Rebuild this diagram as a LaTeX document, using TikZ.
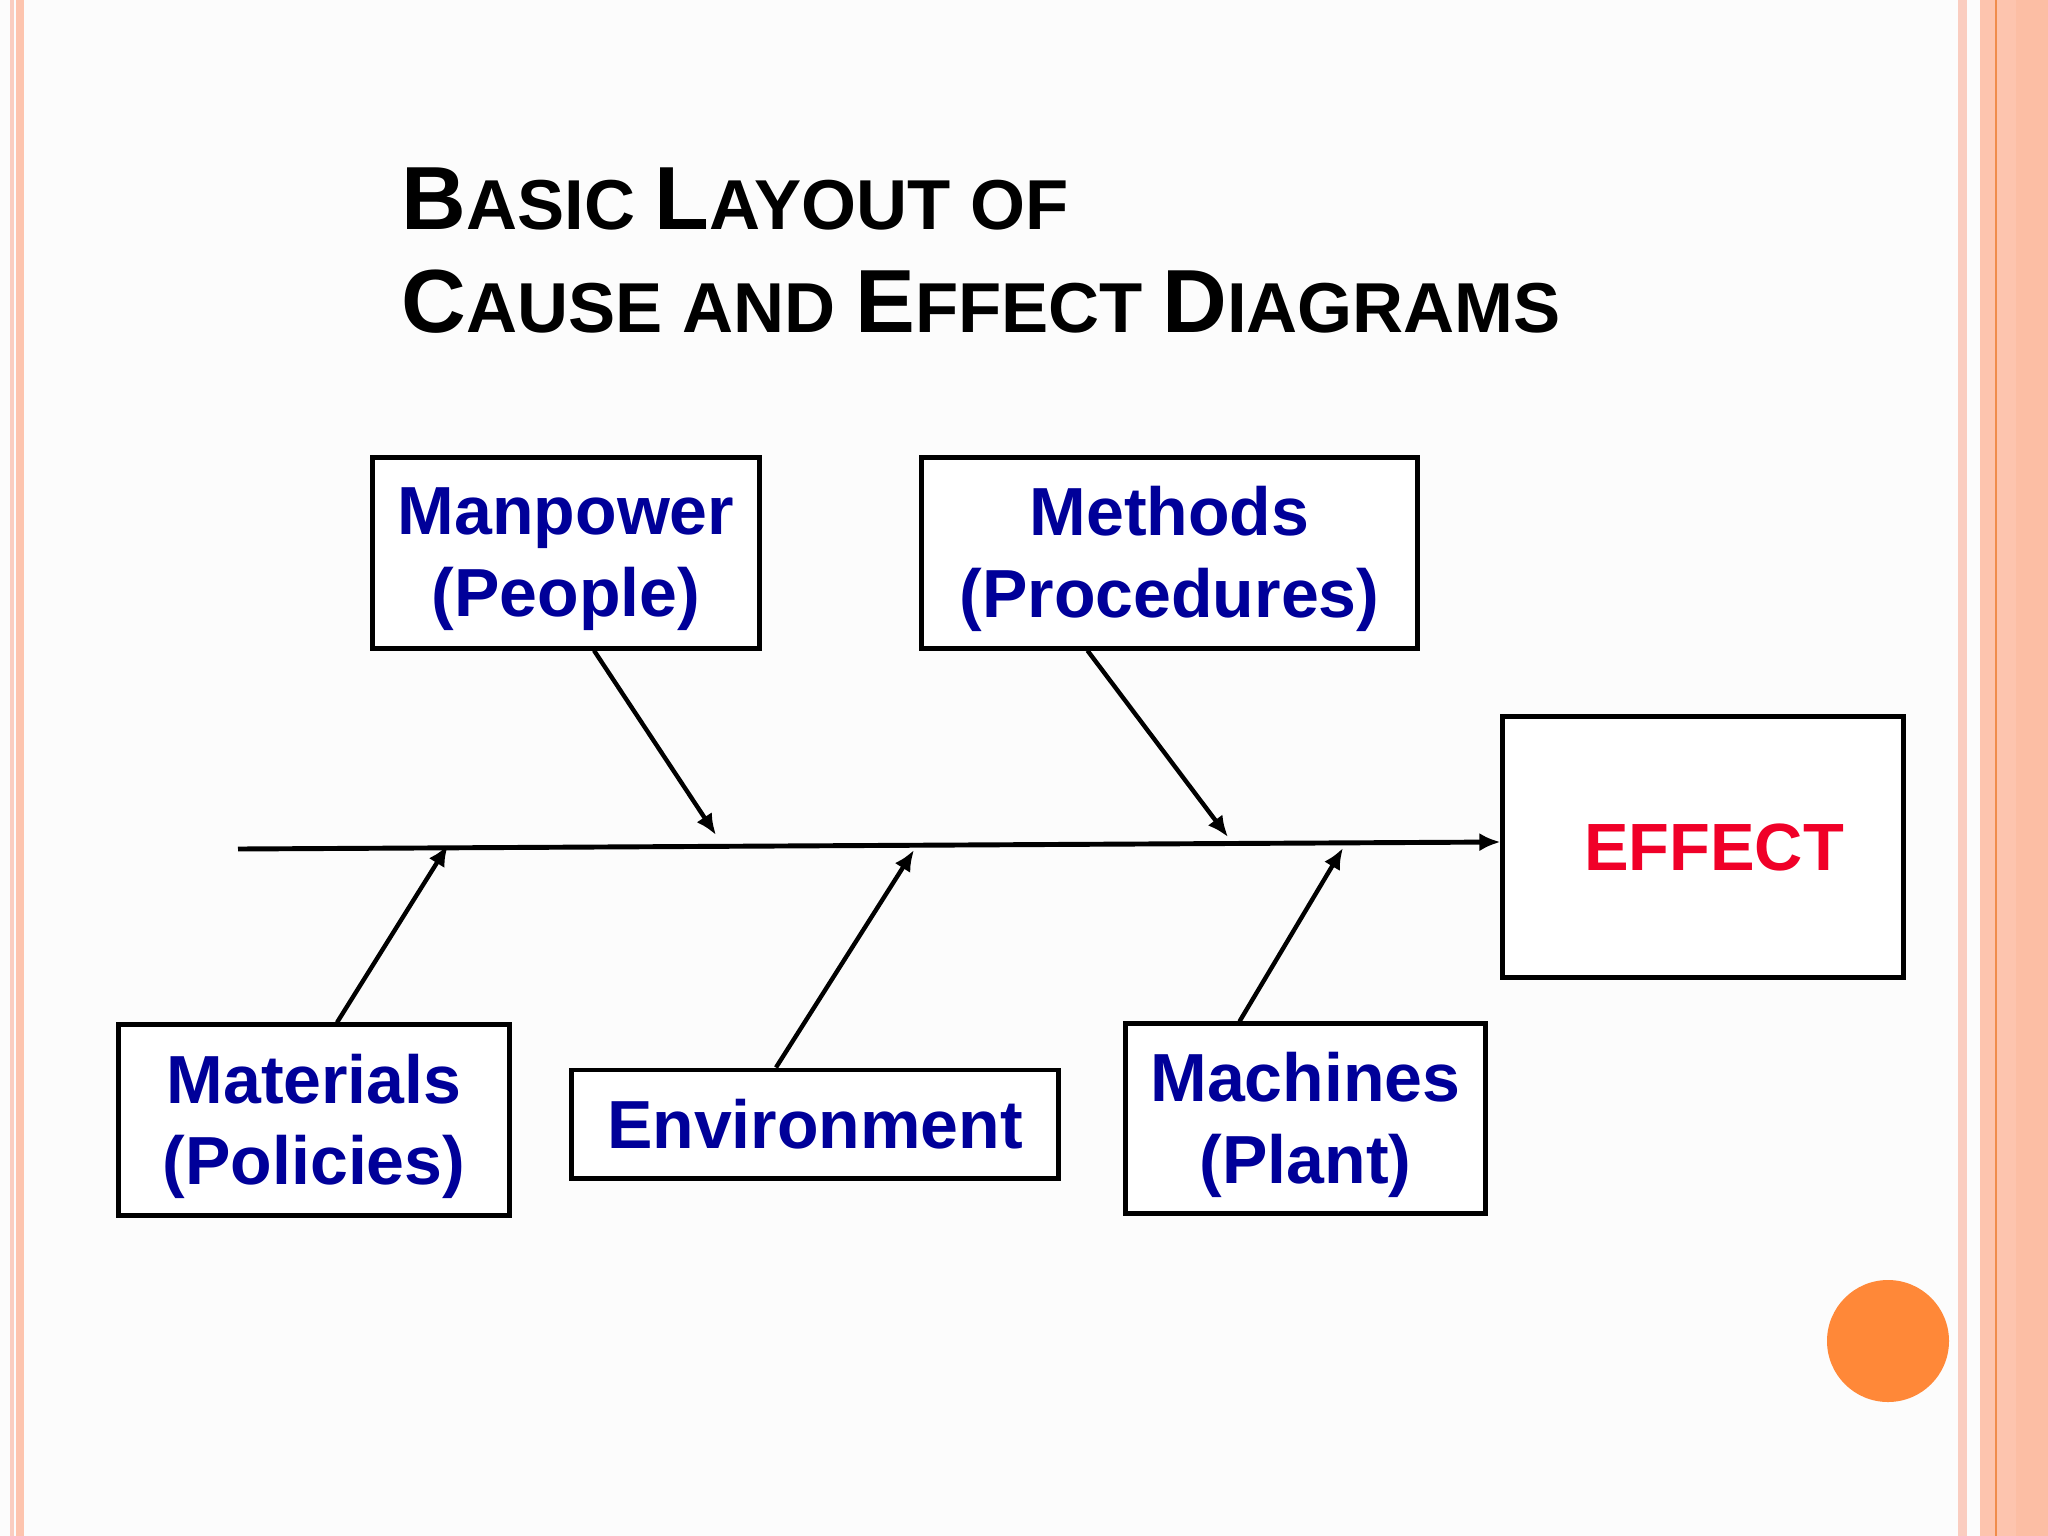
\documentclass[tikz,border=0pt]{standalone}
\usepackage{fontspec}
\setmainfont{Liberation Sans}
\usetikzlibrary{arrows.meta}

\definecolor{labelblue}{RGB}{0,0,153}
\definecolor{effectred}{RGB}{240,0,40}
\definecolor{stripelight}{RGB}{250,205,192}
\definecolor{stripe}{RGB}{253,196,174}
\definecolor{stripedark}{RGB}{252,190,164}
\definecolor{stripeline}{RGB}{240,140,76}
\definecolor{dotorange}{RGB}{255,136,56}

% big capital for the fake small caps of the title
\newcommand{\titlecap}[1]{{\fontsize{25.5}{30}\selectfont #1}}

\begin{document}
\begin{tikzpicture}[
  x=0.01cm, y=-0.01cm,
  cause/.style={rectangle, draw, line width=1.4pt, fill=white, align=center, inner sep=0pt,
    text=labelblue, font=\fontsize{19.35}{23.2}\selectfont\bfseries},
  twoline/.style={text depth=0.5pt},
  effectbox/.style={rectangle, draw, line width=1.4pt, fill=white, inner sep=0pt,
    text=effectred, font=\fontsize{19}{23}\selectfont\bfseries},
  spine/.style={-{Latex[length=6pt,width=5.2pt]}, line width=1.4pt},
  arrow/.style={-{Latex[length=6pt,width=5.2pt]}, line width=1.25pt},
  title/.style={anchor=base west, inner sep=0pt, font=\fontsize{20.1}{24}\selectfont\bfseries}
]
  \useasboundingbox (0,0) rectangle (2048,1536);
  \fill[white!99!black] (0,0) rectangle (2048,1536);

  % side stripes
  \fill[stripelight] (10,0) rectangle (14,1536);
  \fill[stripe] (16,0) rectangle (24,1536);
  \fill[stripelight] (1958,0) rectangle (1967,1536);
  \fill[stripe] (1980,0) rectangle (2048,1536);
  \fill[stripedark] (2016,0) rectangle (2048,1536);
  \draw[stripeline, line width=0.5pt] (1996,0) -- (1996,1536);
  \fill[dotorange] (1888,1341) circle (61);

  % title
  \node[title] (t1) at (401,229) {\titlecap{B}ASIC \titlecap{L}AYOUT OF};
  \node[title] (t2) at (401,332) {\titlecap{C}AUSE AND \titlecap{E}FFECT \titlecap{D}IAGRAMS};

  % boxes
  \node[cause, twoline, minimum width=3.86cm, minimum height=1.9cm] (manpower) at (566,553) {Manpower\\(People)};
  \node[cause, twoline, minimum width=4.95cm, minimum height=1.9cm] (methods) at (1169.5,553) {Methods\\(Procedures)};
  \node[cause, twoline, minimum width=3.9cm, minimum height=1.9cm] (materials) at (314,1120) {Materials\\(Policies)};
  \node[cause, minimum width=4.86cm, minimum height=1.08cm] (environment) at (815,1124) {Environment};
  \node[cause, twoline, minimum width=3.59cm, minimum height=1.89cm] (machines) at (1305.5,1118.5) {Machines\\(Plant)};
  \node[effectbox, minimum width=4cm, minimum height=2.6cm] (effect) at (1703,847) {\hspace*{0.22cm}EFFECT};
  \fill[white] (1543,719) rectangle (1883,722);

  % spine and branches
  \coordinate (tail) at (238,849);
  \coordinate (hitman) at (716,835);
  \coordinate (hitmeth) at (1228,837);
  \coordinate (hitmat) at (448,845);
  \coordinate (hitenv) at (914,850);
  \coordinate (hitmach) at (1343,848);

  \draw[spine] (tail) -- ([yshift=0.05cm]effect.west);
  \draw[arrow] ([xshift=0.28cm]manpower.south) -- (hitman);
  \draw[arrow] ([xshift=-0.82cm]methods.south) -- (hitmeth);
  \draw[arrow] ([xshift=0.23cm]materials.north) -- (hitmat);
  \draw[arrow] ([xshift=-0.39cm]environment.north) -- (hitenv);
  \draw[arrow] ([xshift=-0.66cm]machines.north) -- (hitmach);
\end{tikzpicture}
\end{document}
